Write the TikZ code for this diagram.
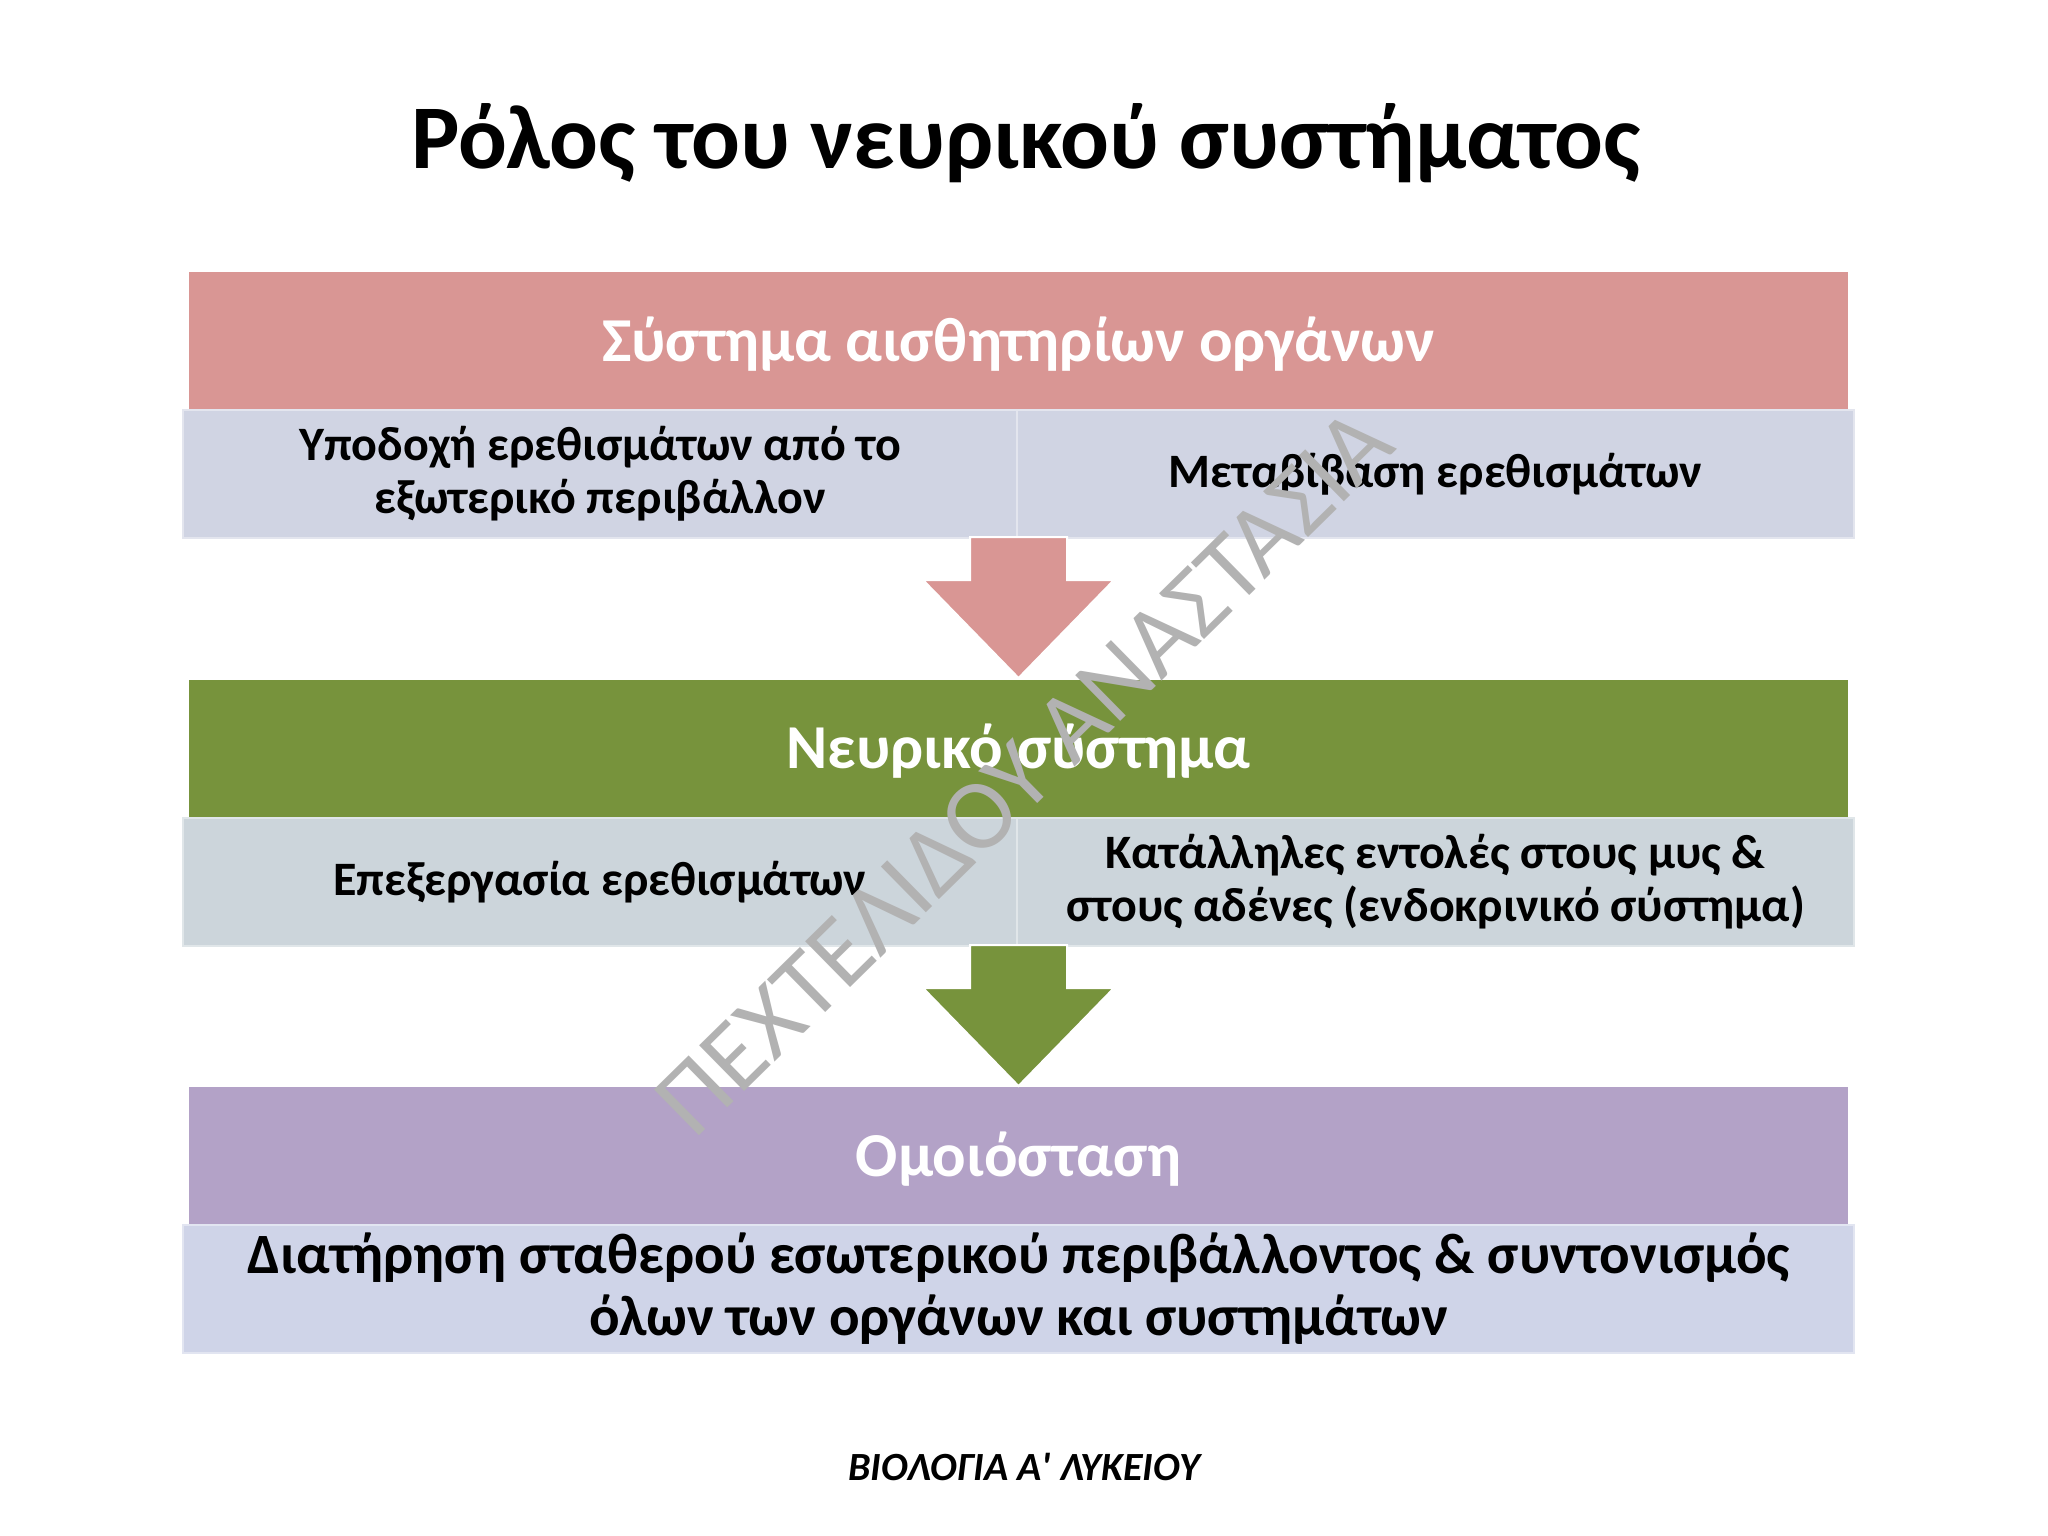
\documentclass[tikz,border=0pt]{standalone}
\usepackage{fontspec}
\setmainfont{Carlito}
\newfontfamily\plainfont{Carlito}
\definecolor{pinkc}{HTML}{D99694}
\definecolor{greenc}{HTML}{77933C}
\definecolor{purplec}{HTML}{B3A2C7}
\definecolor{cellA}{HTML}{D0D4E3}
\definecolor{cellB}{HTML}{CCD5DB}
\definecolor{cellC}{HTML}{CFD4E8}
\begin{document}
\begin{tikzpicture}[x=1pt,y=-1pt,
  hdr/.style={inner sep=0pt, minimum width=1659pt, minimum height=138pt, text=white,
    font=\fontsize{62.5}{70}\selectfont\bfseries, text height=40pt, text depth=0pt},
  cellbox/.style={inner sep=0pt, minimum height=128pt, align=center,
    font=\fontsize{48}{53}\selectfont\bfseries, line width=2.5pt},
  blockarrow/.style={draw=white, line width=2pt, line join=miter}
]
\fill[white] (0,0) rectangle (2048,1536);
\useasboundingbox (0,0) rectangle (2048,1536);

% title
\node[anchor=base, font=\fontsize{91}{100}\selectfont\bfseries] (title) at (1026,168) {Ρόλος του νευρικού συστήματος};

% headers
\node[hdr, fill=pinkc] (h1) at (1018.5,341) {Σύστημα αισθητηρίων οργάνων};
\node[hdr, fill=greenc] (h2) at (1018.5,748.5) {Νευρικό σύστημα};
\node[hdr, fill=purplec] (h3) at (1018.5,1156) {Ομοιόσταση};

% row 1
\node[cellbox, fill=cellA, draw=cellA!60!white, minimum width=834pt] (r1l) at (600,474) {Υποδοχή ερεθισμάτων από το\\εξωτερικό περιβάλλον};
\node[cellbox, fill=cellA, draw=cellA!60!white, minimum width=837pt] (r1r) at (1435.5,474) {Μεταβίβαση ερεθισμάτων};

% row 2
\node[cellbox, fill=cellB, draw=cellB!60!white, minimum width=834pt] (r2l) at (600,882) {Επεξεργασία ερεθισμάτων};
\node[cellbox, fill=cellB, draw=cellB!60!white, minimum width=837pt] (r2r) at (1435.5,882) {Κατάλληλες εντολές στους μυς \&\\στους αδένες (ενδοκρινικό σύστημα)};

% row 3
\node[cellbox, fill=cellC, draw=cellC!60!white, minimum width=1671pt, font=\fontsize{57}{62}\selectfont\bfseries] (r3) at (1018.5,1289) {Διατήρηση σταθερού εσωτερικού περιβάλλοντος \& συντονισμός\\όλων των οργάνων και συστημάτων};

% arrows
\filldraw[blockarrow, fill=pinkc] (970,537) -- (1067,537) -- (1067,580) -- (1114,580) -- (1018.5,678) -- (923,580) -- (970,580) -- cycle;
\filldraw[blockarrow, fill=greenc] (970,945) -- (1067,945) -- (1067,988) -- (1114,988) -- (1018.5,1086) -- (923,988) -- (970,988) -- cycle;

% footer
\node[anchor=base, font=\plainfont\fontsize{40}{48}\selectfont\bfseries\itshape] (footer) at (1024,1480) {ΒΙΟΛΟΓΙΑ Α' ΛΥΚΕΙΟΥ};

% watermark
\node[rotate=44.5, text=black!30, font=\fontsize{100}{100}\selectfont] (wm) at (1024,772) {ΠΕΧΤΕΛΙΔΟΥ ΑΝΑΣΤΑΣΙΑ};
\end{tikzpicture}
\end{document}
